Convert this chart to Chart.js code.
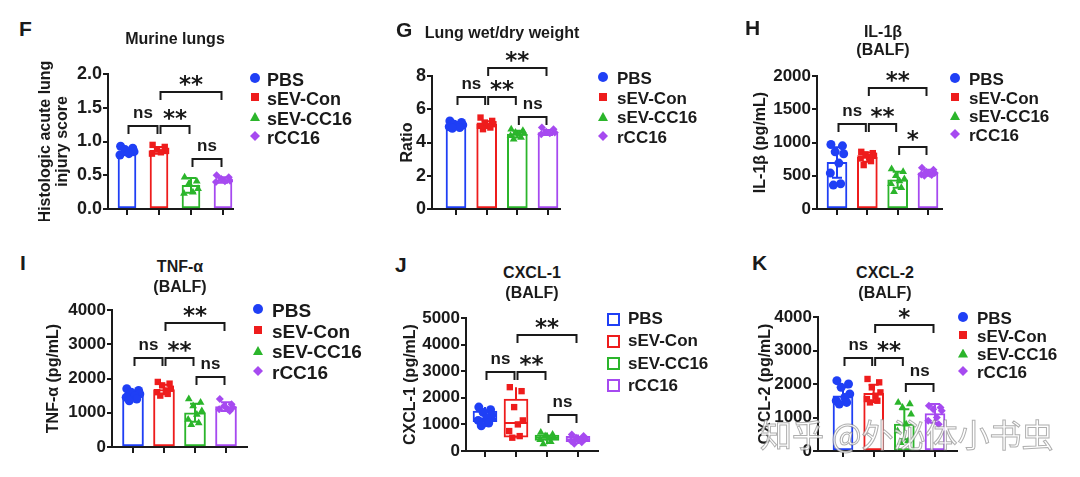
<!DOCTYPE html>
<html>
<head>
<meta charset="utf-8">
<script src="https://cdn.jsdelivr.net/npm/chart.js@4.4.1/dist/chart.umd.min.js"></script>
<style>
  body { margin: 0; width: 1080px; height: 477px; position: relative; overflow: hidden; background: #fff;
         font-family: "Liberation Sans", Arial, sans-serif; font-weight: bold; color: #1a1a1a; }
  canvas, .txt { position: absolute; }
  .letter { font-size: 21px; line-height: 21px; }
  .title { font-size: 16px; line-height: 20px; transform: translateX(-50%); white-space: nowrap; }
  .leg { line-height: 20px; white-space: nowrap; }
  .mark { position: absolute; }
  .wm { position: absolute; left: 760px; top: 413px; font: 32px/40px "Noto Sans CJK SC", sans-serif;
        color: rgba(255,255,255,0.8); -webkit-text-stroke: 1px rgba(110,110,110,0.55); white-space: nowrap; z-index: 5; }
</style>
</head>
<body>
<div class="wm">知乎 @外泌体小书虫</div>
<script>
const groups = ['PBS', 'sEV-Con', 'sEV-CC16', 'rCC16'];
const colors = ['#1f3ff5', '#ee1c1c', '#2bb52b', '#a64af0'];
const shapes = ['circle', 'rect', 'triangle', 'rectRot'];
const jitter = [-0.2, 0.18, -0.06, 0.22, 0.06, -0.22, 0.12, -0.12];

// F - histologic injury score
const injuryMean = [0.85, 0.87, 0.35, 0.43];
const injurySd = [0.05, 0.05, 0.11, 0.04];
const injuryPts = [
    [0.93, 0.90, 0.88, 0.85, 0.82, 0.80],
    [0.95, 0.92, 0.88, 0.86, 0.84, 0.82],
    [0.47, 0.41, 0.38, 0.30, 0.25, 0.23],
    [0.50, 0.47, 0.45, 0.42, 0.41, 0.40]
];
const injurySig = [[0, 1, 1.23, 'ns'], [1, 2, 1.23, '**'], [2, 3, 0.74, 'ns'], [1, 3, 1.73, '**']];

// G - wet/dry ratio
const ratioMean = [5.05, 5.1, 4.5, 4.6];
const ratioSd = [0.15, 0.18, 0.2, 0.15];
const ratioPts = [
    [5.3, 5.2, 5.1, 5.05, 5.0, 4.95, 4.9, 4.85],
    [5.5, 5.3, 5.2, 5.1, 5.0, 5.0, 4.9, 4.8],
    [4.8, 4.7, 4.6, 4.55, 4.5, 4.4, 4.3, 4.2],
    [4.9, 4.8, 4.65, 4.6, 4.55, 4.5]
];
const ratioSig = [[0, 1, 6.74, 'ns'], [1, 2, 6.74, '**'], [2, 3, 5.54, 'ns'], [1, 3, 8.48, '**']];

// H - IL-1b
const il1bMean = [700, 780, 440, 545];
const il1bSd = [230, 70, 120, 45];
const il1bPts = [
    [970, 950, 860, 830, 690, 540, 380, 360],
    [860, 840, 820, 800, 780, 760, 720, 660],
    [600, 560, 500, 450, 420, 380, 320, 260],
    [620, 590, 560, 540, 530, 520, 510, 500]
];
const il1bSig = [[0, 1, 1278, 'ns'], [1, 2, 1278, '**'], [2, 3, 932, '*'], [1, 3, 1820, '**']];

// I - TNF-a
const tnfMean = [1500, 1680, 1000, 1180];
const tnfSd = [120, 140, 260, 130];
const tnfPts = [
    [1700, 1650, 1600, 1550, 1500, 1450, 1400, 1350],
    [1900, 1850, 1800, 1700, 1650, 1600, 1550, 1500],
    [1400, 1300, 1200, 1050, 950, 800, 700, 650],
    [1400, 1250, 1200, 1150, 1100, 1100, 1050]
];
const tnfSig = [[0, 1, 2600, 'ns'], [1, 2, 2600, '**'], [2, 3, 2044, 'ns'], [1, 3, 3620, '**']];

// J - CXCL-1 box plot: [min, q1, median, q3, max]
const cxcl1Box = [
    [900, 1100, 1200, 1500, 1650],
    [480, 520, 1050, 1950, 2400],
    [250, 400, 500, 600, 700],
    [260, 350, 430, 550, 620]
];
const cxcl1Pts = [
    [1650, 1550, 1450, 1350, 1250, 1150, 1050, 950],
    [2400, 2250, 1650, 1150, 1000, 750, 560, 500],
    [700, 620, 560, 500, 480, 420, 350, 260],
    [620, 560, 500, 450, 420, 380, 330, 270]
];
const cxcl1Sig = [[0, 1, 2970, 'ns'], [1, 2, 2970, '**'], [2, 3, 1353, 'ns'], [1, 3, 4360, '**']];

// K - CXCL-2
const cxcl2Mean = [1650, 1720, 800, 1120];
const cxcl2Sd = [250, 260, 450, 280];
const cxcl2Pts = [
    [2100, 2000, 1900, 1700, 1600, 1500, 1450, 1400],
    [2150, 2050, 1900, 1750, 1650, 1550, 1500, 1450],
    [1450, 1400, 1300, 1100, 800, 600, 300, 250],
    [1350, 1300, 1250, 1200, 1000, 900, 800]
];
const cxcl2Sig = [[0, 1, 2776, 'ns'], [1, 2, 2776, '**'], [2, 3, 2000, 'ns'], [1, 3, 3761, '*']];

const INK = '#1a1a1a';

const panels = [
    { letter: 'F', lp: [19, 18], title: ['Murine lungs'], tp: [175, 39],
      yTitle: ['Histologic acute lung', 'injury score'], yMax: 2, step: 0.5, dec: 1, tfs: 18,
      mean: injuryMean, sd: injurySd, pts: injuryPts, sig: injurySig,
      g: { titleX: 45, axisX: 108, top: 74, bottom: 209, end: 233, t0: 127, t3: 223, ctop: 40, bar: 18 },
      leg: { mx: 255, tx: 267, y0: 80, dy: 19.3, fs: 18 } },
    { letter: 'G', lp: [396, 19], title: ['Lung wet/dry weight'], tp: [502, 33],
      yTitle: 'Ratio', yMax: 8, step: 2, dec: 0, tfs: 18,
      mean: ratioMean, sd: ratioSd, pts: ratioPts, sig: ratioSig,
      g: { titleX: 407, axisX: 432, top: 76, bottom: 209, end: 560, t0: 456, t3: 548, ctop: 40, bar: 20 },
      leg: { mx: 603, tx: 617, y0: 79, dy: 19.7, fs: 17 } },
    { letter: 'H', lp: [745, 17], title: ['IL-1β', '(BALF)'], tp: [883, 32], tlh: 18,
      yTitle: 'IL-1β (pg/mL)', yMax: 2000, step: 500, dec: 0, tfs: 17,
      mean: il1bMean, sd: il1bSd, pts: il1bPts, sig: il1bSig,
      g: { titleX: 760, axisX: 817, top: 76, bottom: 209, end: 942, t0: 837, t3: 928, ctop: 40, bar: 20 },
      leg: { mx: 955, tx: 969, y0: 80, dy: 18.7, fs: 17 } },
    { letter: 'I', lp: [20, 252], title: ['TNF-α', '(BALF)'], tp: [180, 267], tlh: 20,
      yTitle: 'TNF-α (pg/mL)', yMax: 4000, step: 1000, dec: 0, tfs: 17,
      mean: tnfMean, sd: tnfSd, pts: tnfPts, sig: tnfSig,
      g: { titleX: 53, axisX: 112, top: 310, bottom: 447, end: 247, t0: 133, t3: 226, ctop: 290, bar: 21 },
      leg: { mx: 258, tx: 272, y0: 311, dy: 20.7, fs: 19 } },
    { letter: 'J', lp: [395, 254], title: ['CXCL-1', '(BALF)'], tp: [532, 273], tlh: 20,
      yTitle: 'CXCL-1 (pg/mL)', yMax: 5000, step: 1000, dec: 0, tfs: 17,
      box: cxcl1Box, pts: cxcl1Pts, sig: cxcl1Sig,
      g: { titleX: 410, axisX: 466, top: 318, bottom: 451, end: 598, t0: 485, t3: 578, ctop: 290, bar: 24 },
      leg: { mx: 613, tx: 628, y0: 319, dy: 22.3, fs: 17, outline: true } },
    { letter: 'K', lp: [752, 252], title: ['CXCL-2', '(BALF)'], tp: [885, 273], tlh: 20,
      yTitle: 'CXCL-2 (pg/mL)', yMax: 4000, step: 1000, dec: 0, tfs: 17,
      mean: cxcl2Mean, sd: cxcl2Sd, pts: cxcl2Pts, sig: cxcl2Sig,
      g: { titleX: 765, axisX: 818, top: 317, bottom: 451, end: 957, t0: 843, t3: 935, ctop: 290, bar: 20 },
      leg: { mx: 963, tx: 977, y0: 319, dy: 18, fs: 17 } }
];

function addText(cls, text, x, y, extra) {
    const d = document.createElement('div');
    d.className = 'txt ' + cls;
    d.textContent = text;
    d.style.left = x + 'px';
    d.style.top = y + 'px';
    if (extra) Object.assign(d.style, extra);
    document.body.appendChild(d);
    return d;
}

function addMarker(i, cx, cy, outline) {
    const m = document.createElement('div');
    m.className = 'mark';
    let w = 10, h = 10;
    const st = {};
    if (outline) {
        w = 13; h = 13;
        st.boxSizing = 'border-box';
        st.border = '2px solid ' + colors[i];
    } else {
        st.background = colors[i];
        if (i === 0) st.borderRadius = '50%';
        if (i === 1) { w = 8; h = 8; }
        if (i === 2) { w = 10; h = 9; st.clipPath = 'polygon(50% 0, 100% 100%, 0 100%)'; }
        if (i === 3) { w = 10; h = 10; st.clipPath = 'polygon(50% 0, 100% 50%, 50% 100%, 0 50%)'; }
    }
    Object.assign(m.style, st, { width: w + 'px', height: h + 'px', left: (cx - w / 2) + 'px', top: (cy - h / 2) + 'px' });
    document.body.appendChild(m);
}

function overlayPlugin(sig) {
    return {
        id: 'overlay',
        afterDatasetDraw(chart, args) {
            const ds = chart.data.datasets[args.index];
            const xs = chart.scales.x, ys = chart.scales.y, ctx = chart.ctx;
            ctx.save();
            ctx.lineWidth = 2;
            if (ds.sd) {
                // error bars (mean +/- SD)
                ds.data.forEach((d, i) => {
                    const px = xs.getPixelForValue(d.x);
                    const hi = ys.getPixelForValue(d.y + ds.sd[i]);
                    const lo = ys.getPixelForValue(Math.max(0, d.y - ds.sd[i]));
                    ctx.strokeStyle = colors[i];
                    ctx.beginPath();
                    ctx.moveTo(px, hi); ctx.lineTo(px, lo);
                    ctx.moveTo(px - 5, hi); ctx.lineTo(px + 5, hi);
                    ctx.moveTo(px - 5, lo); ctx.lineTo(px + 5, lo);
                    ctx.stroke();
                });
            }
            if (ds.box) {
                // whiskers and median
                ds.box.forEach((b, i) => {
                    const px = xs.getPixelForValue(i);
                    const half = ds.barThickness / 2 - 1;
                    const [mn, q1, md, q3, mx] = b.map(v => ys.getPixelForValue(v));
                    ctx.strokeStyle = colors[i];
                    ctx.beginPath();
                    ctx.moveTo(px, q3); ctx.lineTo(px, mx);
                    ctx.moveTo(px, q1); ctx.lineTo(px, mn);
                    ctx.moveTo(px - half, md); ctx.lineTo(px + half, md);
                    ctx.stroke();
                });
            }
            ctx.restore();
        },
        afterDraw(chart) {
            const xs = chart.scales.x, ys = chart.scales.y, ctx = chart.ctx;
            ctx.save();
            ctx.strokeStyle = INK;
            ctx.fillStyle = INK;
            ctx.lineWidth = 2;
            ctx.textAlign = 'center';
            sig.forEach(([a, b, v, label]) => {
                const x1 = xs.getPixelForValue(a) + 1.5, x2 = xs.getPixelForValue(b) - 1.5;
                const y = Math.round(ys.getPixelForValue(v));
                ctx.beginPath();
                ctx.moveTo(x1, y + 8); ctx.lineTo(x1, y); ctx.lineTo(x2, y); ctx.lineTo(x2, y + 8);
                ctx.stroke();
                const cx = (x1 + x2) / 2, cy = y - 13;
                if (label === 'ns') {
                    ctx.font = 'bold 17px "Liberation Sans"';
                    ctx.textBaseline = 'middle';
                    ctx.fillText(label, cx, cy);
                } else {
                    ctx.font = 'bold 23px "DejaVu Sans"';
                    ctx.textBaseline = 'alphabetic';
                    ctx.fillText(label, cx, cy + 12.5);
                }
            });
            ctx.restore();
        }
    };
}

function makePanel(p) {
    const g = p.g;
    const left = Math.round(g.titleX - 8.5);
    const right = g.end + 6;
    const bottom = g.bottom + 12;
    const cv = document.createElement('canvas');
    cv.width = right - left;
    cv.height = bottom - g.ctop;
    cv.style.left = left + 'px';
    cv.style.top = g.ctop + 'px';
    document.body.appendChild(cv);
    const sp = (g.t3 - g.t0) / 3;

    const datasets = [];
    if (p.box) {
        datasets.push({
            type: 'bar', order: 2,
            data: p.box.map((b, i) => ({ x: i, y: [b[1], b[3]] })),
            box: p.box,
            backgroundColor: '#fff', borderColor: colors, borderWidth: 2, borderSkipped: false,
            barThickness: g.bar
        });
    } else {
        datasets.push({
            type: 'bar', order: 2,
            data: p.mean.map((m, i) => ({ x: i, y: m })),
            sd: p.sd,
            backgroundColor: '#fff', borderColor: colors, borderWidth: 2, borderSkipped: false,
            barThickness: g.bar
        });
    }
    p.pts.forEach((vals, i) => {
        datasets.push({
            type: 'scatter', order: 1, label: groups[i],
            data: vals.map((v, k) => ({ x: i + jitter[k % jitter.length], y: v })),
            pointStyle: shapes[i],
            pointRadius: i === 3 ? 4 : 4.5,
            backgroundColor: colors[i], borderColor: colors[i], borderWidth: 0
        });
    });

    const tickFont = { family: 'Liberation Sans', weight: 'bold', size: p.tfs };
    new Chart(cv.getContext('2d'), {
        type: 'bar',
        data: { datasets },
        options: {
            responsive: false,
            animation: false,
            layout: { padding: { left: 0, top: g.top - g.ctop, right: 6, bottom: 2 } },
            plugins: { legend: { display: false }, tooltip: { enabled: false } },
            scales: {
                x: {
                    type: 'linear',
                    offset: false,
                    min: (g.axisX - g.t0) / sp,
                    max: (g.end - g.t0) / sp,
                    afterBuildTicks: s => { s.ticks = [0, 1, 2, 3].map(v => ({ value: v })); },
                    afterFit: s => { s.height = 10; },
                    ticks: { display: false },
                    grid: { offset: false, drawOnChartArea: false, tickLength: 6, lineWidth: 2, color: INK },
                    border: { color: INK, width: 2 }
                },
                y: {
                    min: 0, max: p.yMax,
                    afterFit: s => { s.width = g.axisX - left; },
                    ticks: { stepSize: p.step, color: INK, font: tickFont, padding: 1,
                             callback: v => v.toFixed(p.dec) },
                    grid: { drawOnChartArea: false, tickLength: 5, lineWidth: 2, color: INK },
                    border: { color: INK, width: 2 },
                    title: { display: true, text: p.yTitle, color: INK, padding: 0,
                             font: { family: 'Liberation Sans', weight: 'bold', size: 16, lineHeight: 1.06 } }
                }
            }
        },
        plugins: [overlayPlugin(p.sig)]
    });

    // panel letter, title, legend
    addText('letter', p.letter, p.lp[0], p.lp[1]);
    const lh = p.tlh || 20;
    p.title.forEach((t, k) => addText('title', t, p.tp[0], p.tp[1] + k * lh - 10));
    const L = p.leg;
    groups.forEach((name, i) => {
        const y = L.y0 + i * L.dy;
        addMarker(i, L.mx, y - (L.outline ? 0 : 2), L.outline);
        addText('leg', name, L.tx, y - 10, { fontSize: L.fs + 'px' });
    });
}

panels.forEach(makePanel);
</script>
</body>
</html>
